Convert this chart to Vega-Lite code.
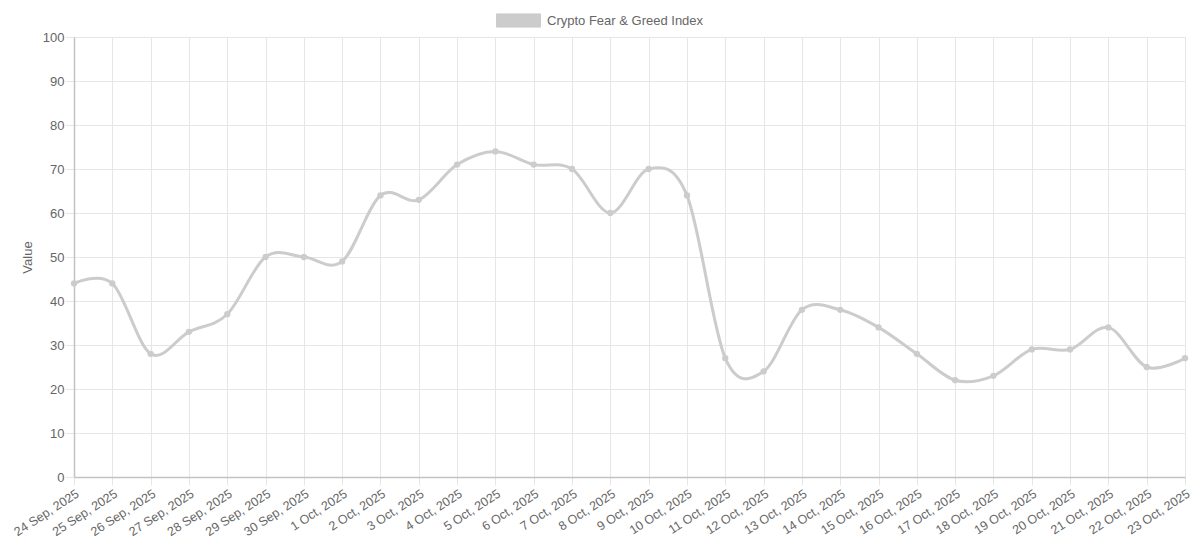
{
  "$schema": "https://vega.github.io/schema/vega-lite/v6.json",
  "width": 1111,
  "height": 440,
  "autosize": {"type": "none"},
  "padding": {"left": 74, "top": 37, "right": 15, "bottom": 69},
  "background": "white",
  "config": {
    "font": "Liberation Sans",
    "view": {"stroke": null}
  },
  "data": {
    "values": [
      {"date": "24 Sep, 2025", "value": 44, "series": "Crypto Fear & Greed Index"},
      {"date": "25 Sep, 2025", "value": 44, "series": "Crypto Fear & Greed Index"},
      {"date": "26 Sep, 2025", "value": 28, "series": "Crypto Fear & Greed Index"},
      {"date": "27 Sep, 2025", "value": 33, "series": "Crypto Fear & Greed Index"},
      {"date": "28 Sep, 2025", "value": 37, "series": "Crypto Fear & Greed Index"},
      {"date": "29 Sep, 2025", "value": 50, "series": "Crypto Fear & Greed Index"},
      {"date": "30 Sep, 2025", "value": 50, "series": "Crypto Fear & Greed Index"},
      {"date": "1 Oct, 2025", "value": 49, "series": "Crypto Fear & Greed Index"},
      {"date": "2 Oct, 2025", "value": 64, "series": "Crypto Fear & Greed Index"},
      {"date": "3 Oct, 2025", "value": 63, "series": "Crypto Fear & Greed Index"},
      {"date": "4 Oct, 2025", "value": 71, "series": "Crypto Fear & Greed Index"},
      {"date": "5 Oct, 2025", "value": 74, "series": "Crypto Fear & Greed Index"},
      {"date": "6 Oct, 2025", "value": 71, "series": "Crypto Fear & Greed Index"},
      {"date": "7 Oct, 2025", "value": 70, "series": "Crypto Fear & Greed Index"},
      {"date": "8 Oct, 2025", "value": 60, "series": "Crypto Fear & Greed Index"},
      {"date": "9 Oct, 2025", "value": 70, "series": "Crypto Fear & Greed Index"},
      {"date": "10 Oct, 2025", "value": 64, "series": "Crypto Fear & Greed Index"},
      {"date": "11 Oct, 2025", "value": 27, "series": "Crypto Fear & Greed Index"},
      {"date": "12 Oct, 2025", "value": 24, "series": "Crypto Fear & Greed Index"},
      {"date": "13 Oct, 2025", "value": 38, "series": "Crypto Fear & Greed Index"},
      {"date": "14 Oct, 2025", "value": 38, "series": "Crypto Fear & Greed Index"},
      {"date": "15 Oct, 2025", "value": 34, "series": "Crypto Fear & Greed Index"},
      {"date": "16 Oct, 2025", "value": 28, "series": "Crypto Fear & Greed Index"},
      {"date": "17 Oct, 2025", "value": 22, "series": "Crypto Fear & Greed Index"},
      {"date": "18 Oct, 2025", "value": 23, "series": "Crypto Fear & Greed Index"},
      {"date": "19 Oct, 2025", "value": 29, "series": "Crypto Fear & Greed Index"},
      {"date": "20 Oct, 2025", "value": 29, "series": "Crypto Fear & Greed Index"},
      {"date": "21 Oct, 2025", "value": 34, "series": "Crypto Fear & Greed Index"},
      {"date": "22 Oct, 2025", "value": 25, "series": "Crypto Fear & Greed Index"},
      {"date": "23 Oct, 2025", "value": 27, "series": "Crypto Fear & Greed Index"}
    ]
  },
  "encoding": {
    "x": {
      "field": "date",
      "type": "ordinal",
      "sort": null,
      "scale": {"type": "point", "padding": 0},
      "axis": {
        "title": null,
        "labelAngle": -33,
        "labelAlign": "right",
        "labelBaseline": "top",
        "labelFontSize": 12.5,
        "labelColor": "#666",
        "labelPadding": 2,
        "labelOverlap": false,
        "grid": true,
        "gridColor": "#e6e6e6",
        "tickColor": "#e6e6e6",
        "tickSize": 8,
        "domainColor": "#c2c2c2",
        "domainWidth": 1.5
      }
    },
    "y": {
      "field": "value",
      "type": "quantitative",
      "scale": {"domain": [0, 100], "nice": false},
      "axis": {
        "title": "Value",
        "titleFontSize": 13,
        "titleFontWeight": "normal",
        "titleColor": "#666",
        "titlePadding": 8,
        "values": [0, 10, 20, 30, 40, 50, 60, 70, 80, 90, 100],
        "labelFontSize": 13,
        "labelColor": "#666",
        "labelPadding": 1,
        "grid": true,
        "gridColor": "#e6e6e6",
        "tickColor": "#e6e6e6",
        "tickSize": 9,
        "domainColor": "#c2c2c2",
        "domainWidth": 1.5
      }
    },
    "color": {
      "field": "series",
      "type": "nominal",
      "scale": {"range": ["#cccccc"]},
      "legend": {
        "title": null,
        "orient": "none",
        "legendX": 422,
        "legendY": -39,
        "symbolType": "M-1,-0.3H1V0.3H-1Z",
        "symbolSize": 1936,
        "symbolFillColor": "#cccccc",
        "symbolStrokeColor": "#c4c4c4",
        "symbolStrokeWidth": 1,
        "labelFontSize": 13,
        "labelColor": "#666",
        "labelOffset": 6
      }
    }
  },
  "layer": [
    {
      "mark": {"type": "line", "interpolate": "cardinal", "tension": 0, "strokeWidth": 3}
    },
    {
      "mark": {"type": "point", "filled": true, "size": 40, "opacity": 1}
    }
  ]
}
